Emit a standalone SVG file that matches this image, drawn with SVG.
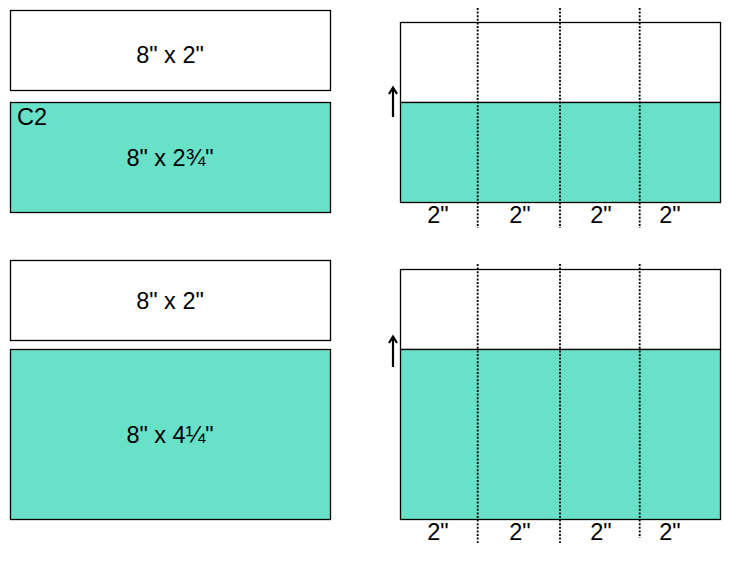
<svg xmlns="http://www.w3.org/2000/svg" width="740" height="577" viewBox="0 0 740 577">
<style>
.w{fill:#ffffff;stroke:#000;stroke-width:1.3}
.t{fill:#68e1c8;stroke:#000;stroke-width:1.3}
.tx{font-family:"Liberation Sans",Arial,sans-serif;font-size:23.5px;fill:#000}
.m{text-anchor:middle}
.d{stroke:#000;stroke-width:1.8;stroke-dasharray:2 1.6;fill:none}
.a{stroke:#000;stroke-width:2.2;fill:none}
</style>
<rect width="740" height="577" fill="#fff"/>
<g id="top-white"><rect class="w" x="10.5" y="10.5" width="320" height="80"/><text class="tx m" x="170" y="63">8" x 2"</text></g>
<g id="top-teal"><rect class="t" x="10.5" y="102.5" width="320" height="110"/><text class="tx" x="17" y="125">C2</text><text class="tx m" x="170" y="166">8" x 2¾"</text></g>
<g id="bottom-white"><rect class="w" x="10.5" y="260.5" width="320" height="80"/><text class="tx m" x="170" y="309">8" x 2"</text></g>
<g id="bottom-teal"><rect class="t" x="10.5" y="349.5" width="320" height="170"/><text class="tx m" x="170" y="443">8" x 4¼"</text></g>
<g id="top-right">
<rect class="w" x="400.5" y="22.5" width="320" height="80"/>
<rect class="t" x="400.5" y="102.5" width="320" height="100"/>
<text class="tx m" x="438" y="223">2"</text><text class="tx m" x="520" y="223">2"</text><text class="tx m" x="601" y="223">2"</text><text class="tx m" x="670" y="223">2"</text>
</g>
<g id="bottom-right">
<rect class="w" x="400.5" y="269.5" width="320" height="80"/>
<rect class="t" x="400.5" y="349.5" width="320" height="170"/>
<text class="tx m" x="438" y="540">2"</text><text class="tx m" x="520" y="540">2"</text><text class="tx m" x="601" y="540">2"</text><text class="tx m" x="670" y="540">2"</text>
</g>
<g id="connectors">
<line class="d" x1="477.7" y1="8" x2="477.7" y2="228"/>
<line class="d" x1="560" y1="8" x2="560" y2="228"/>
<line class="d" x1="639.7" y1="8" x2="639.7" y2="228"/>
<line class="d" x1="477.7" y1="264" x2="477.7" y2="543"/>
<line class="d" x1="560" y1="264" x2="560" y2="543"/>
<line class="d" x1="639.7" y1="264" x2="639.7" y2="538"/>
<path class="a" d="M393 117V88M389 94L393 87.5L397 94"/>
<path class="a" d="M393 367V337M389 343L393 336.5L397 343"/>
</g>
</svg>
